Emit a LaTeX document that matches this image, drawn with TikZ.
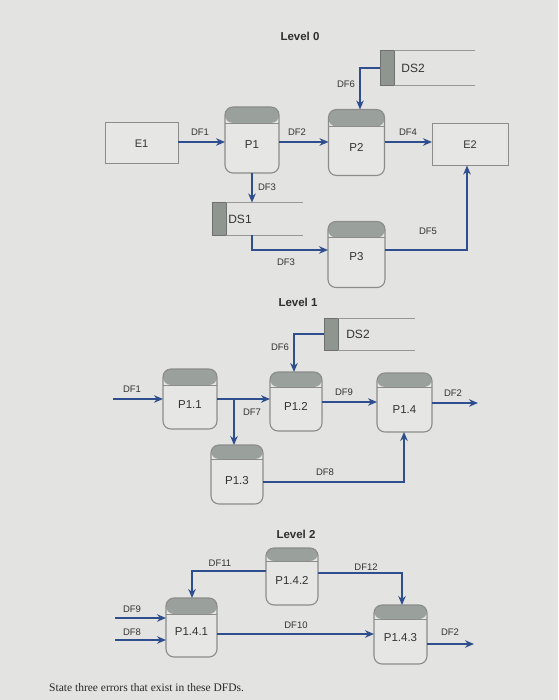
\documentclass[tikz,border=0pt]{standalone}
\usepackage{fontspec}
\setmainfont{Liberation Sans}
\newfontfamily\serifbody{Liberation Serif}
\usetikzlibrary{arrows.meta,calc}
\definecolor{bg}{HTML}{E3E3E1}
\definecolor{boxfill}{HTML}{E6E6E4}
\definecolor{boxline}{HTML}{8C8C8A}
\definecolor{topfill}{HTML}{9AA09B}
\definecolor{barfill}{HTML}{8F9690}
\definecolor{flowblue}{HTML}{2F4E8E}
\definecolor{txt}{HTML}{333333}
\tikzset{
  proc/.style={draw=boxline, fill=boxfill, line width=1.1pt, rounded corners=8pt, inner sep=0pt, outer sep=0pt},
  procline/.style={draw=boxline, line width=0.9pt},
  ptext/.style={font=\fontsize{11.5}{13}\selectfont, text=txt, inner sep=0pt},
  ent/.style={draw=boxline, fill=boxfill, line width=1pt, inner sep=0pt, outer sep=0pt, font=\fontsize{11}{13}\selectfont, text=txt},
  dsbar/.style={draw=boxline!80!black, fill=barfill, line width=0.8pt, inner sep=0pt, outer sep=0pt},
  dsline/.style={draw=boxline!90, line width=1pt},
  stext/.style={font=\fontsize{12}{14}\selectfont, text=txt, inner sep=0pt},
  flow/.style={draw=flowblue, line width=1.8pt, -{Stealth[length=9pt,width=7.5pt]}},
  flabel/.style={font=\fontsize{9.5}{11}\selectfont, text=txt, inner sep=0pt},
  title/.style={font=\bfseries\fontsize{11.5}{13}\selectfont, text=txt!90!black, inner sep=0pt}
}
\newcommand\proc[8]{%
  \node[proc, minimum width=#4pt, minimum height=#5pt,
    path picture={\fill[topfill] (path picture bounding box.north west) rectangle ([yshift=-#6pt]path picture bounding box.north east);
      \draw[procline] ([yshift=-#6pt]path picture bounding box.north west) -- ([yshift=-#6pt]path picture bounding box.north east);}] (#1) at (#2,#3) {};
  \node[ptext] (#1t) at (#2,#8) {#7};}
\newcommand\store[8]{% name, cx, cy, w, h, xend, text, tx
  \node[dsbar, minimum width=#4pt, minimum height=#5pt] (#1) at (#2,#3) {};
  \draw[dsline] (#1.north east) -- (#1.north east -| #6,0);
  \draw[dsline] (#1.south east) -- (#1.south east -| #6,0);
  \node[stext] (#1t) at (#8,#3) {#7};}
\begin{document}
\begin{tikzpicture}[x=1pt,y=-1pt]
\fill[bg] (0,0) rectangle (558,700);
\useasboundingbox (0,0) rectangle (558,700);

% ---------- Level 0 ----------
\node[title] (t0) at (300,36) {Level 0};
\node[ent, minimum width=73pt, minimum height=41pt] (e1) at (141.5,143.5) {E1};
\node[ent, minimum width=76pt, minimum height=42pt] (e2) at (470,144.5) {E2};
\proc{p1}{252}{140}{54}{66}{16}{P1}{145}
\proc{p2}{356.5}{142.5}{56}{66}{17}{P2}{147}
\proc{p3}{356.5}{254.5}{57}{66}{16}{P3}{257}
\store{ds2}{387}{68}{14}{35}{475}{DS2}{413}
\store{ds1}{219}{219}{14}{33}{303}{DS1}{240}

\draw[flow] (e1.east |- 0,142) -- (p1.west |- 0,142);
\node[flabel] (l01) at (200,132) {DF1};
\draw[flow] (p1.east |- 0,142) -- (p2.west |- 0,142);
\node[flabel] (l02) at (297,132) {DF2};
\draw[flow] (p2.east |- 0,142) -- (e2.west |- 0,142);
\node[flabel] (l04) at (408,132) {DF4};
\draw[flow] (ds2.west) -| ([xshift=3.5pt]p2.north);
\node[flabel] (l06) at (346,84) {DF6};
\draw[flow] (p1.south) -- (p1.south |- ds1.north);
\node[flabel] (l03a) at (267,187) {DF3};
\draw[flow] (p1.south |- ds1.south) |- ([yshift=4.5pt]p3.west);
\node[flabel] (l03b) at (286,262) {DF3};
\draw[flow] ([yshift=4.5pt]p3.east) -| ([xshift=-3pt]e2.south);
\node[flabel] (l05) at (428,231) {DF5};

% ---------- Level 1 ----------
\node[title] (t1) at (298,302) {Level 1};
\store{ds2b}{331}{334}{14}{32}{415}{DS2}{358}
\proc{p11}{190}{399}{54}{60}{16}{P1.1}{405}
\proc{p12}{296}{401.5}{52}{59}{15}{P1.2}{406}
\proc{p14}{404.5}{402.5}{55}{59}{14}{P1.4}{410}
\proc{p13}{237}{474.5}{52}{59}{14}{P1.3}{481}
\coordinate (in1) at (113,399);
\coordinate (out1) at (478,403);
\draw[flow] (in1) -- (in1 -| p11.west);
\node[flabel] (l11) at (132,389) {DF1};
\draw[flow] (ds2b.west) -| ([xshift=-2pt]p12.north);
\node[flabel] (l16) at (280,347) {DF6};
\draw[flow] (p11.east) -- (p11.east -| p12.west);
\draw[flow] ([xshift=-3pt]p13.north |- p11.east) -- ([xshift=-3pt]p13.north);
\node[flabel] (l17) at (252,412) {DF7};
\draw[flow] ([yshift=-0.5pt]p12.east) -- ([yshift=-0.5pt]p12.east -| p14.west);
\node[flabel] (l19) at (344,392) {DF9};
\draw[flow] (p14.east |- out1) -- (out1);
\node[flabel] (l12) at (453,393) {DF2};
\draw[flow] ([yshift=-7.5pt]p13.east) -| ([xshift=-0.5pt]p14.south);
\node[flabel] (l18) at (325,472) {DF8};

% ---------- Level 2 ----------
\node[title] (t2) at (296,534) {Level 2};
\proc{p142}{292}{576.5}{52}{57}{13}{P1.4.2}{580}
\proc{p141}{191.5}{627.5}{51}{59}{16}{P1.4.1}{632}
\proc{p143}{400.5}{634.5}{53}{59}{14}{P1.4.3}{638}
\coordinate (in9) at (115,618);
\coordinate (in8) at (115,640);
\coordinate (out2) at (474,644);
\draw[flow] ([yshift=5.5pt]p142.west) -| ([xshift=0.5pt]p141.north);
\node[flabel] (l211) at (220,563) {DF11};
\draw[flow] ([yshift=3.5pt]p142.east) -| ([xshift=1.5pt]p143.north);
\node[flabel] (l212) at (366,567) {DF12};
\draw[flow] (in9) -- (in9 -| p141.west);
\node[flabel] (l29) at (132,609) {DF9};
\draw[flow] (in8) -- (in8 -| p141.west);
\node[flabel] (l28) at (132,632) {DF8};
\draw[flow] ([yshift=-6.5pt]p141.east) -- ([yshift=0.5pt]p143.west);
\node[flabel] (l210) at (296,625) {DF10};
\draw[flow] (p143.east |- out2) -- (out2);
\node[flabel] (l22) at (450,632) {DF2};

\node[anchor=west, font=\serifbody\fontsize{11.5}{13}\selectfont, text=txt!80!black, inner sep=0pt] (q) at (49,688) {State three errors that exist in these DFDs.};
\end{tikzpicture}
\end{document}
